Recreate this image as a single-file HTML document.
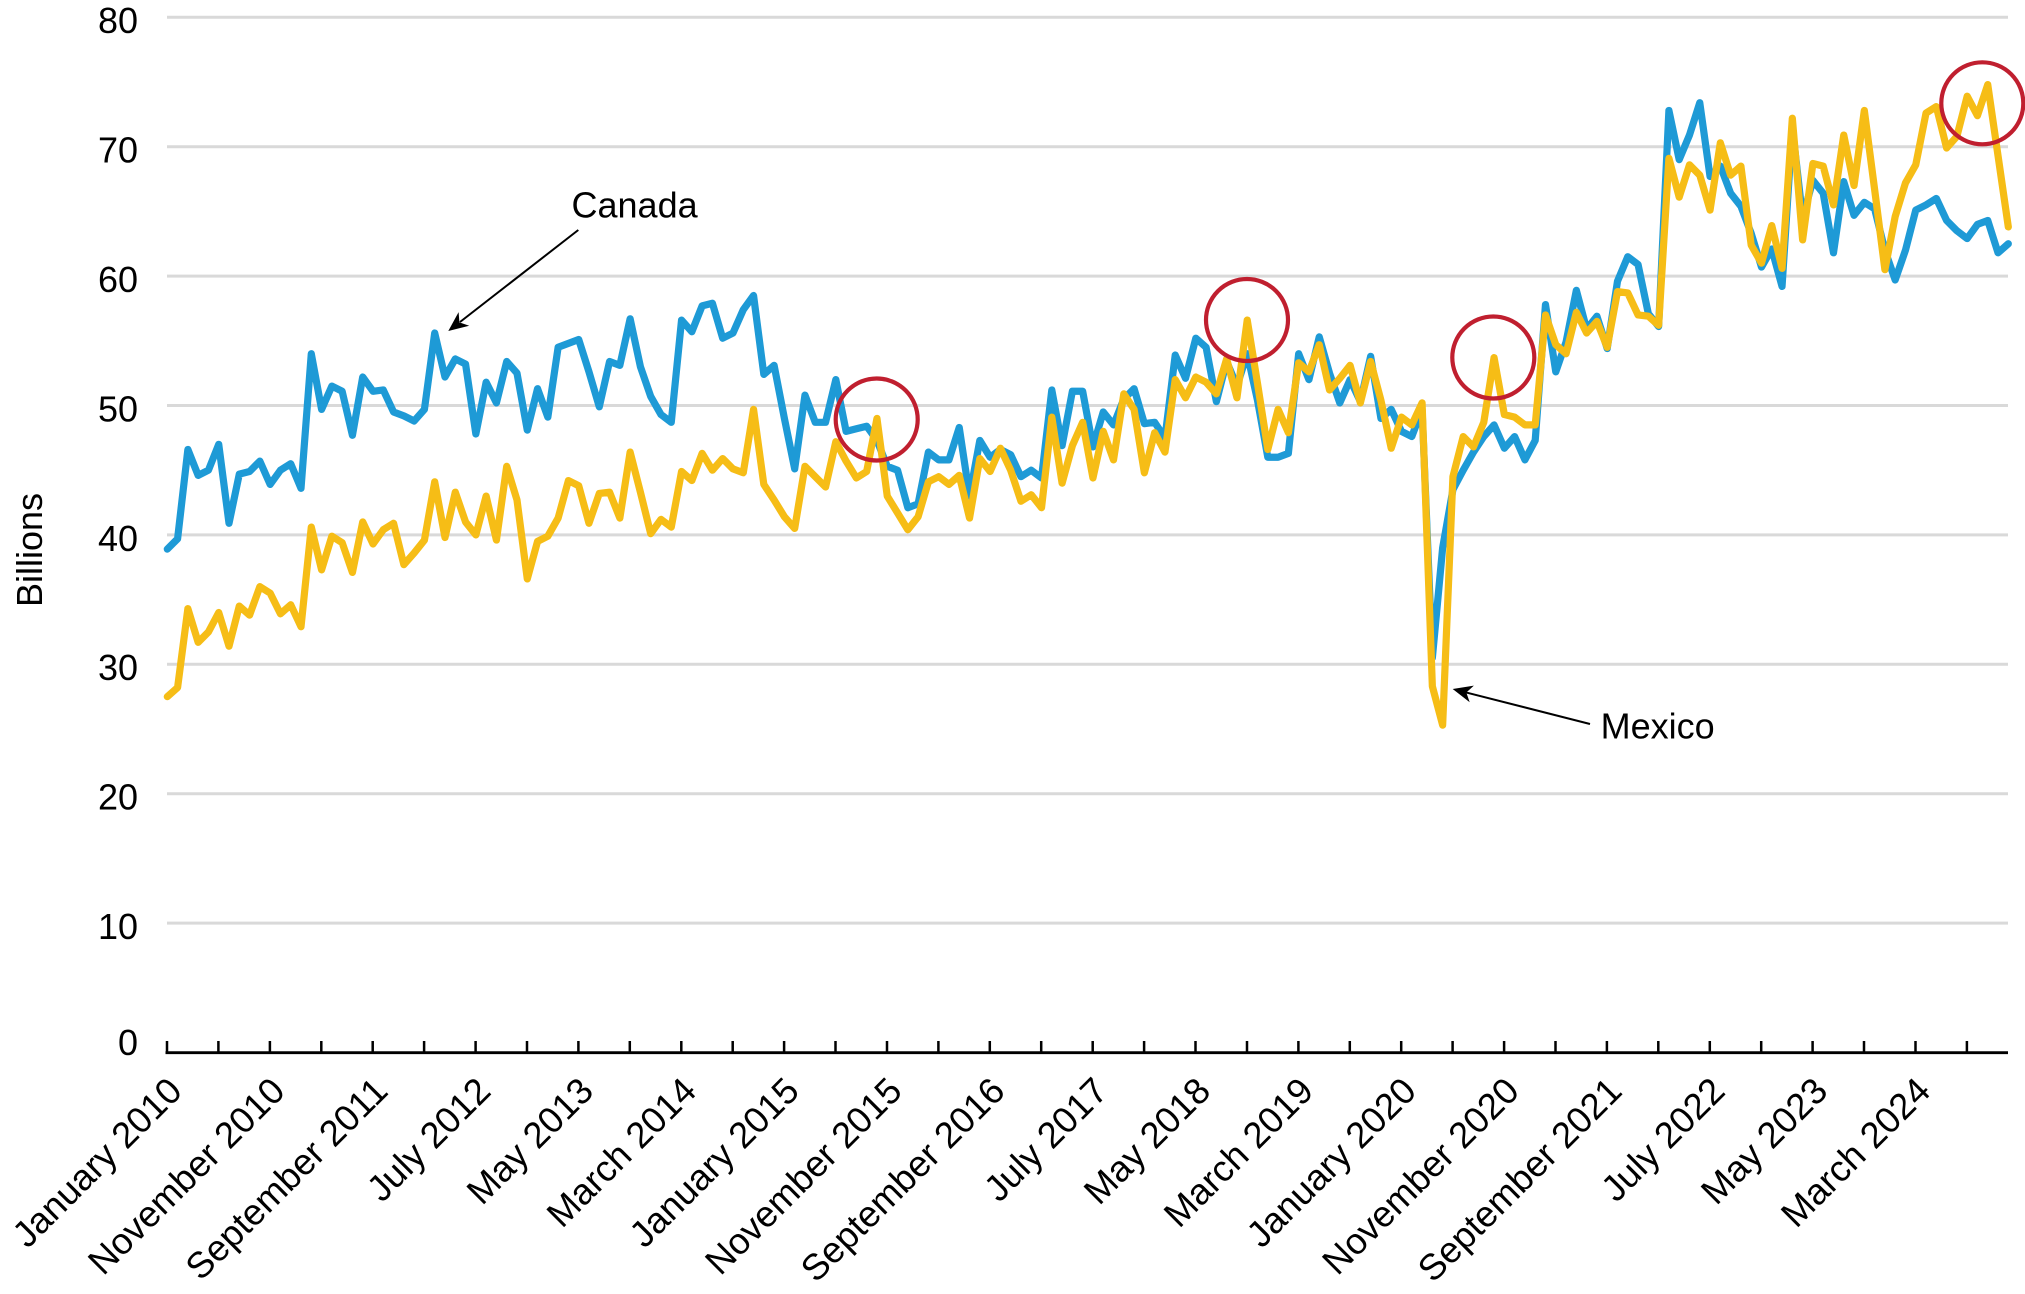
<!DOCTYPE html>
<html>
<head>
<meta charset="utf-8">
<style>
html,body{margin:0;padding:0;background:#fff;}
svg{display:block;}
text{font-family:"Liberation Sans",Arial,sans-serif;fill:#000;}
</style>
</head>
<body>
<svg width="2025" height="1294" viewBox="0 0 2025 1294" xmlns="http://www.w3.org/2000/svg">
<rect width="2025" height="1294" fill="#fff"/>
<!-- gridlines -->
<g stroke="#d9d9d9" stroke-width="3">
<line x1="167" y1="17.3" x2="2008" y2="17.3"/>
<line x1="167" y1="146.7" x2="2008" y2="146.7"/>
<line x1="167" y1="276.1" x2="2008" y2="276.1"/>
<line x1="167" y1="405.5" x2="2008" y2="405.5"/>
<line x1="167" y1="534.9" x2="2008" y2="534.9"/>
<line x1="167" y1="664.3" x2="2008" y2="664.3"/>
<line x1="167" y1="793.7" x2="2008" y2="793.7"/>
<line x1="167" y1="923.1" x2="2008" y2="923.1"/>
</g>
<!-- y labels -->
<g font-size="36" text-anchor="end">
<text x="138" y="33.2">80</text>
<text x="138" y="162.6">70</text>
<text x="138" y="292">60</text>
<text x="138" y="421.4">50</text>
<text x="138" y="550.8">40</text>
<text x="138" y="680.2">30</text>
<text x="138" y="809.6">20</text>
<text x="138" y="939">10</text>
<text x="138" y="1055">0</text>
</g>
<text font-size="36" text-anchor="middle" transform="translate(42,550) rotate(-90)">Billions</text>
<!-- data -->
<g transform="matrix(10.285,0,0,-12.94,167.3,1052.5)" fill="none" stroke-linejoin="round" stroke-linecap="round">
<polyline vector-effect="non-scaling-stroke" stroke="#1e9ad6" stroke-width="7.2" points="0,38.9 1,39.7 2,46.6 3,44.6 4,45.0 5,47.0 6,40.9 7,44.7 8,44.9 9,45.7 10,43.9 11,45.0 12,45.5 13,43.6 14,54.0 15,49.7 16,51.5 17,51.1 18,47.7 19,52.2 20,51.1 21,51.2 22,49.5 23,49.2 24,48.8 25,49.7 26,55.6 27,52.2 28,53.6 29,53.2 30,47.8 31,51.8 32,50.2 33,53.4 34,52.5 35,48.1 36,51.3 37,49.1 38,54.5 39,54.8 40,55.1 41,52.6 42,49.9 43,53.4 44,53.1 45,56.7 46,53.0 47,50.7 48,49.3 49,48.7 50,56.6 51,55.7 52,57.7 53,57.9 54,55.2 55,55.6 56,57.4 57,58.5 58,52.4 59,53.1 60,49.0 61,45.1 62,50.8 63,48.7 64,48.7 65,52.0 66,48.0 67,48.2 68,48.4 69,47.3 70,45.3 71,45.0 72,42.1 73,42.4 74,46.4 75,45.8 76,45.8 77,48.3 78,43.0 79,47.3 80,46.0 81,46.6 82,46.2 83,44.5 84,45.0 85,44.4 86,51.2 87,46.9 88,51.1 89,51.1 90,46.8 91,49.5 92,48.5 93,50.5 94,51.3 95,48.6 96,48.7 97,47.5 98,53.9 99,52.1 100,55.2 101,54.5 102,50.3 103,53.4 104,51.5 105,54.0 106,50.4 107,46.0 108,46.0 109,46.3 110,54.0 111,52.0 112,55.3 113,52.5 114,50.2 115,52.0 116,50.3 117,53.8 118,49.0 119,49.7 120,48.0 121,47.6 122,49.7 123,30.5 124,39.0 125,43.5 126,45.0 127,46.4 128,47.6 129,48.5 130,46.7 131,47.6 132,45.8 133,47.3 134,57.8 135,52.6 136,54.9 137,58.9 138,55.9 139,56.9 140,54.4 141,59.6 142,61.5 143,60.9 144,57.1 145,56.1 146,72.8 147,69.0 148,70.9 149,73.4 150,67.7 151,68.5 152,66.4 153,65.4 154,63.3 155,60.7 156,62.1 157,59.2 158,71.5 159,64.5 160,67.4 161,66.4 162,61.8 163,67.3 164,64.7 165,65.7 166,65.2 167,62.0 168,59.7 169,62.0 170,65.1 171,65.5 172,66.0 173,64.3 174,63.5 175,62.9 176,64.0 177,64.3 178,61.8 179,62.5"/>
<polyline vector-effect="non-scaling-stroke" stroke="#f6bd16" stroke-width="7.2" points="0,27.5 1,28.2 2,34.3 3,31.7 4,32.5 5,34.0 6,31.4 7,34.5 8,33.8 9,36.0 10,35.5 11,33.9 12,34.6 13,32.9 14,40.6 15,37.3 16,39.9 17,39.4 18,37.1 19,41.0 20,39.3 21,40.4 22,40.9 23,37.7 24,38.6 25,39.6 26,44.1 27,39.8 28,43.3 29,41.0 30,40.0 31,43.0 32,39.6 33,45.3 34,42.7 35,36.6 36,39.5 37,39.9 38,41.3 39,44.2 40,43.8 41,40.9 42,43.2 43,43.3 44,41.3 45,46.4 46,43.3 47,40.1 48,41.2 49,40.6 50,44.9 51,44.2 52,46.3 53,45.0 54,45.9 55,45.1 56,44.8 57,49.7 58,43.9 59,42.7 60,41.4 61,40.5 62,45.3 63,44.5 64,43.7 65,47.2 66,45.7 67,44.4 68,44.9 69,49.0 70,43.0 71,41.7 72,40.4 73,41.4 74,44.1 75,44.5 76,43.9 77,44.6 78,41.3 79,45.9 80,44.9 81,46.7 82,45.0 83,42.6 84,43.1 85,42.1 86,49.1 87,44.0 88,46.9 89,48.7 90,44.4 91,48.0 92,45.8 93,50.9 94,49.7 95,44.8 96,47.9 97,46.4 98,52.0 99,50.6 100,52.2 101,51.8 102,50.9 103,53.6 104,50.6 105,56.6 106,51.7 107,46.6 108,49.7 109,47.9 110,53.3 111,52.6 112,54.7 113,51.2 114,52.1 115,53.1 116,50.2 117,53.4 118,50.4 119,46.7 120,49.1 121,48.5 122,50.2 123,28.3 124,25.3 125,44.5 126,47.6 127,46.8 128,48.7 129,53.7 130,49.3 131,49.1 132,48.5 133,48.5 134,57.0 135,54.7 136,54.0 137,57.2 138,55.6 139,56.5 140,54.5 141,58.8 142,58.7 143,57.0 144,56.9 145,56.2 146,69.1 147,66.1 148,68.6 149,67.8 150,65.1 151,70.3 152,67.8 153,68.5 154,62.4 155,61.0 156,63.9 157,60.6 158,72.2 159,62.8 160,68.7 161,68.5 162,65.5 163,70.9 164,67.0 165,72.8 166,66.7 167,60.5 168,64.6 169,67.2 170,68.6 171,72.6 172,73.1 173,69.9 174,70.8 175,73.9 176,72.4 177,74.8 178,69.3 179,63.8"/>
</g>
<!-- red circles -->
<g fill="none" stroke="#c01f2f" stroke-width="4.2">
<circle cx="876.7" cy="419.5" r="41"/>
<circle cx="1247" cy="320" r="41"/>
<circle cx="1493.3" cy="357.5" r="41"/>
<circle cx="1982.3" cy="103.3" r="41"/>
</g>
<!-- x axis -->
<g stroke="#000">
<line x1="165.5" y1="1052.7" x2="2008" y2="1052.7" stroke-width="2.8"/>
<path stroke-width="2.5" d="M167,1041V1053M218.4,1041V1053M269.9,1041V1053M321.3,1041V1053M372.7,1041V1053M424.1,1041V1053M475.6,1041V1053M527,1041V1053M578.4,1041V1053M629.8,1041V1053M681.3,1041V1053M732.7,1041V1053M784.1,1041V1053M835.5,1041V1053M887,1041V1053M938.4,1041V1053M989.8,1041V1053M1041.2,1041V1053M1092.7,1041V1053M1144.1,1041V1053M1195.5,1041V1053M1247,1041V1053M1298.4,1041V1053M1349.8,1041V1053M1401.2,1041V1053M1452.6,1041V1053M1504.1,1041V1053M1555.5,1041V1053M1606.9,1041V1053M1658.3,1041V1053M1709.8,1041V1053M1761.2,1041V1053M1812.6,1041V1053M1864,1041V1053M1915.5,1041V1053M1966.9,1041V1053"/>
</g>
<!-- x labels -->
<g font-size="36.5" text-anchor="end">
<text transform="translate(184,1093) rotate(-45)">January 2010</text>
<text transform="translate(286.9,1093) rotate(-45)">November 2010</text>
<text transform="translate(389.7,1093) rotate(-45)">September 2011</text>
<text transform="translate(492.6,1093) rotate(-45)">July 2012</text>
<text transform="translate(595.4,1093) rotate(-45)">May 2013</text>
<text transform="translate(698.3,1093) rotate(-45)">March 2014</text>
<text transform="translate(801.1,1093) rotate(-45)">January 2015</text>
<text transform="translate(904,1093) rotate(-45)">November 2015</text>
<text transform="translate(1006.8,1093) rotate(-45)">September 2016</text>
<text transform="translate(1109.7,1093) rotate(-45)">July 2017</text>
<text transform="translate(1212.5,1093) rotate(-45)">May 2018</text>
<text transform="translate(1315.4,1093) rotate(-45)">March 2019</text>
<text transform="translate(1418.2,1093) rotate(-45)">January 2020</text>
<text transform="translate(1521.1,1093) rotate(-45)">November 2020</text>
<text transform="translate(1623.9,1093) rotate(-45)">September 2021</text>
<text transform="translate(1726.8,1093) rotate(-45)">July 2022</text>
<text transform="translate(1829.6,1093) rotate(-45)">May 2023</text>
<text transform="translate(1932.5,1093) rotate(-45)">March 2024</text>
</g>
<!-- annotations -->
<text x="571.5" y="217.7" font-size="36">Canada</text>
<line x1="578.3" y1="230" x2="460" y2="322" stroke="#000" stroke-width="2"/>
<polygon points="448.3,331 458.6,312.1 459.4,322.4 469.2,325.7" fill="#000"/>
<text x="1600.6" y="738.3" font-size="36">Mexico</text>
<line x1="1590" y1="724" x2="1465" y2="692.2" stroke="#000" stroke-width="2"/>
<polygon points="1452.7,689 1473.9,685.6 1466.3,692.5 1469.7,702.2" fill="#000"/>
</svg>
</body>
</html>
